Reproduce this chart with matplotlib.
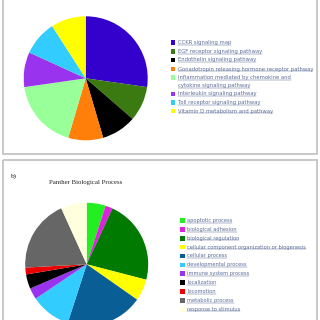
import matplotlib
matplotlib.use("Agg")
import matplotlib.pyplot as plt
from matplotlib.patches import Rectangle

# ---- data: panel a ----
pathway_labels = [
    "CCKR signaling map",
    "EGF receptor signaling pathway",
    "Endothelin signaling pathway",
    "Gonadotropin releasing hormone receptor pathway",
    "Inflammation mediated by chemokine and\ncytokine signaling pathway",
    "Interleukin signaling pathway",
    "Toll receptor signaling pathway",
    "Vitamin D metabolism and pathway",
]
pathway_values = [3, 1, 1, 1, 2, 1, 1, 1]
pathway_colors = ["#3300cc", "#3a7a10", "#000000", "#ff7f0a",
                  "#99ff99", "#9933ee", "#33ccff", "#ffff00"]

# ---- data: panel b ----
process_title = "Panther Biological Process"
process_labels = [
    "apoptotic process",
    "biological adhesion",
    "biological regulation",
    "cellular component organization or biogenesis",
    "cellular process",
    "developmental process",
    "immune system process",
    "localization",
    "locomotion",
    "metabolic process",
    "response to stimulus",
]
process_values = [5.0, 1.9, 22.2, 5.7, 20.3, 10.6, 3.0, 3.8, 1.8, 19.1, 6.8]
process_colors = ["#22ee22", "#dd22dd", "#007a00", "#ffff00", "#0a5e96",
                  "#33ccff", "#9933ee", "#000000", "#ee0000", "#666666",
                  "#ffffdd"]

W = H = 320
fig = plt.figure(figsize=(3.2, 3.2), dpi=100)
fig.patch.set_facecolor("white")

# overlay axes in pixel coordinates (y down)
ov = fig.add_axes([0, 0, 1, 1])
ov.set_xlim(0, W)
ov.set_ylim(H, 0)
ov.axis("off")
ov.patch.set_alpha(0)

# panel frames
ov.add_patch(Rectangle((2.5, -5), 314.5, 158.5, fill=False, ec="#c8c8c8", lw=1.4))
ov.add_patch(Rectangle((2.5, 159.5), 314.5, 170, fill=False, ec="#c8c8c8", lw=1.4))


def pie_axes(cx, cy, r):
    ax = fig.add_axes([(cx - r) / W, 1 - (cy + r) / H, 2 * r / W, 2 * r / H])
    ax.set_xlim(-1, 1)
    ax.set_ylim(-1, 1)
    ax.axis("off")
    return ax


ax1 = pie_axes(85.7, 78.3, 62)
ax1.pie(pathway_values, colors=pathway_colors, startangle=90,
        counterclock=False, radius=1, wedgeprops=dict(linewidth=0))
ax1.set_xlim(-1, 1); ax1.set_ylim(-1, 1)

ax2 = pie_axes(86.7, 264.3, 61.5)
ax2.pie(process_values, colors=process_colors, startangle=90,
        counterclock=False, radius=1, wedgeprops=dict(linewidth=0))
ax2.set_xlim(-1, 1); ax2.set_ylim(-1, 1)

link_color = "#5b6d96"
texts = []

# legend a
ys = [42.7, 51.7, 60.0, 69.0, 77.7, 93.9, 102.7, 111.0]
for lab, col, y in zip(pathway_labels, pathway_colors, ys):
    ov.add_patch(Rectangle((170.5, y - 2.3), 4.6, 4.6, fc=col, ec="none"))
    lines = lab.split("\n")
    for k, line in enumerate(lines):
        t = ov.text(177.8, y + k * 8.3, line, fontsize=3.75, color=link_color,
                    va="center", ha="left", family="DejaVu Sans")
        texts.append(t)

# legend b
y0, dy = 220.5, 8.87
for i, (lab, col) in enumerate(zip(process_labels, process_colors)):
    y = y0 + i * dy
    ov.add_patch(Rectangle((180.2, y - 2.3), 4.6, 4.6, fc=col, ec="none"))
    t = ov.text(187.0, y, lab, fontsize=3.72, color=link_color,
                va="center", ha="left", family="DejaVu Sans")
    texts.append(t)

ov.text(11, 175.8, "b)", fontsize=5.2, family="Liberation Serif",
        va="center", ha="left", color="#222222")
ov.text(85.2, 182.8, process_title, fontsize=4.9, family="Liberation Serif",
        va="center", ha="center", color="#222222")

# underline link-style texts
fig.canvas.draw()
inv = ov.transData.inverted()
r = fig.canvas.get_renderer()
for t in texts:
    bb = t.get_window_extent(renderer=r)
    (x0, yb), (x1, yt) = inv.transform([[bb.x0, bb.y0], [bb.x1, bb.y1]])
    ov.plot([x0, x1], [yb - 0.3, yb - 0.3], color=link_color, lw=0.35)

fig.savefig("out.png", dpi=100, facecolor="white")
